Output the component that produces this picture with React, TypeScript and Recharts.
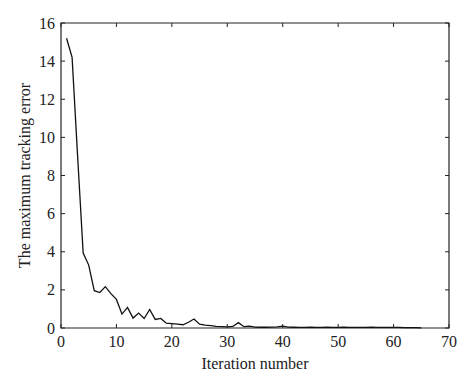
import { LineChart, Line, XAxis, YAxis, Label, ReferenceArea } from 'recharts';

const iterations = [
  1, 2, 3, 4, 5, 6, 7, 8, 9, 10, 11, 12, 13, 14, 15, 16, 17, 18, 19, 20,
  21, 22, 23, 24, 25, 26, 27, 28, 29, 30, 31, 32, 33, 34, 35, 36, 37, 38, 39, 40,
  41, 42, 43, 44, 45, 46, 47, 48, 49, 50, 51, 52, 53, 54, 55, 56, 57, 58, 59, 60,
  61, 62, 63, 64, 65,
];
const maxError = [
  15.2, 14.2, 9.0, 3.93, 3.3, 1.96, 1.86, 2.17, 1.8, 1.5, 0.73, 1.08, 0.52, 0.78, 0.5, 0.97, 0.45, 0.5, 0.25, 0.23,
  0.2, 0.17, 0.3, 0.47, 0.2, 0.15, 0.12, 0.08, 0.07, 0.06, 0.08, 0.28, 0.07, 0.1, 0.05, 0.04, 0.04, 0.05, 0.06, 0.1,
  0.05, 0.04, 0.03, 0.03, 0.04, 0.03, 0.03, 0.04, 0.03, 0.03, 0.04, 0.03, 0.03, 0.03, 0.03, 0.04, 0.03, 0.03, 0.03, 0.03,
  0.03, 0.02, 0.02, 0.02, 0.01,
];
const xTicks = [0, 10, 20, 30, 40, 50, 60, 70];
const yTicks = [0, 2, 4, 6, 8, 10, 12, 14, 16];

const data = iterations.map((it, i) => ({ it, err: maxError[i] }));

const FONT = '"Liberation Serif", "DejaVu Serif", serif';
const TOP = 23;
const BOTTOM = 328;
const LEFT = 61;
const RIGHT = 449;

// ticks point inward on all four sides, like the original figure
function BottomTick(props: any) {
  const { x, payload } = props;
  return (
    <g>
      <line x1={x} x2={x} y1={BOTTOM} y2={BOTTOM - 4} stroke="#222" />
      <line x1={x} x2={x} y1={TOP} y2={TOP + 4} stroke="#222" />
      <text x={x} y={BOTTOM + 19} textAnchor="middle" fontSize={16} fontFamily={FONT} fill="#222">
        {payload.value}
      </text>
    </g>
  );
}

function LeftTick(props: any) {
  const { y, payload } = props;
  return (
    <g>
      <line x1={LEFT} x2={LEFT + 4} y1={y} y2={y} stroke="#222" />
      <line x1={RIGHT} x2={RIGHT - 4} y1={y} y2={y} stroke="#222" />
      <text x={LEFT - 6} y={y + 5.5} textAnchor="end" fontSize={16} fontFamily={FONT} fill="#222">
        {payload.value}
      </text>
    </g>
  );
}

export default function App() {
  return (
    <div style={{ position: 'absolute', left: 0, top: 0, background: '#fff' }}>
      <LineChart
        width={474}
        height={387}
        data={data}
        margin={{ top: TOP, right: 474 - RIGHT, bottom: 0, left: 0 }}
      >
        <XAxis
          dataKey="it"
          type="number"
          domain={[0, 70]}
          ticks={xTicks}
          height={387 - BOTTOM}
          tickLine={false}
          axisLine={false}
          tick={<BottomTick />}
          interval={0}
        >
          <Label
            value="Iteration number"
            position="insideBottom"
            offset={18}
            style={{ fontSize: 16, fontFamily: FONT, fill: '#222' }}
          />
        </XAxis>
        <YAxis
          type="number"
          domain={[0, 16]}
          ticks={yTicks}
          width={LEFT}
          tickLine={false}
          axisLine={false}
          tick={<LeftTick />}
          interval={0}
        >
          <Label
            value="The maximum tracking error"
            angle={-90}
            position="insideLeft"
            offset={24}
            style={{ fontSize: 16, fontFamily: FONT, fill: '#222', textAnchor: 'middle' }}
          />
        </YAxis>
        <ReferenceArea x1={0} x2={70} y1={0} y2={16} fill="none" stroke="#222" strokeWidth={1.2} ifOverflow="visible" />
        <Line
          dataKey="err"
          type="linear"
          stroke="#111"
          strokeWidth={1.3}
          dot={false}
          isAnimationActive={false}
        />
      </LineChart>
    </div>
  );
}
